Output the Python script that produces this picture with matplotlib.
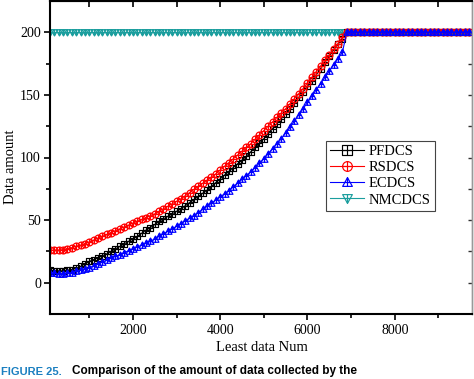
# Data amount vs least data num, four collection schemes

import numpy as np
import matplotlib.pyplot as plt
import matplotlib.path as mpath
from matplotlib.ticker import NullFormatter

plt.rcParams['font.family'] = ['Liberation Serif', 'DejaVu Serif']

# x sample points (Least data Num)
least_num = np.arange(100, 9800, 100)

# rising parts (x = 100 .. 6800)
pfdcs_rise = [10, 9.5, 9.5, 9.5, 10, 10.5, 11.5, 13, 15, 17,
              18.5, 20, 21.5, 23, 25, 27, 29, 31, 33, 35,
              37, 39.5, 42, 44, 46.5, 49, 51, 53, 55, 57,
              59, 61.5, 64, 66.5, 69, 71.5, 74, 77, 80, 83,
              86, 89, 92, 95, 98, 101, 104.5, 108, 111.5, 115,
              119, 123, 127, 131, 135, 139, 143.5, 148, 152.5, 157,
              161.5, 166, 171, 176, 181, 186, 190.5, 195]
rsdcs_rise = [26, 26, 26, 26.5, 27, 28, 29, 30, 31, 32.5,
              34, 35.5, 37, 38.5, 40, 41.5, 43, 44.5, 46, 47.5,
              49, 50.5, 52, 53.5, 55, 57, 59, 61, 63, 65,
              67, 69.5, 72, 74.5, 77, 79.5, 82, 84.5, 87, 90,
              93, 96, 99, 102, 105, 108, 111, 114.5, 118, 121.5,
              125, 128.5, 132, 135.5, 139, 143, 147, 151, 155, 159.5,
              164, 168.5, 173, 177.5, 182, 186.5, 191, 196]
ecdcs_rise = [8, 7.5, 7, 7, 7.5, 8, 9, 10, 11, 12,
              13.5, 15, 16.5, 18, 19.5, 21, 22.5, 24, 25.5, 27,
              28.5, 30, 31.5, 33, 35, 37, 39, 41, 43, 45,
              47, 49.5, 51.5, 53.5, 56, 58.5, 61, 63.5, 66, 68.5,
              71, 73.5, 76.5, 79.5, 82.5, 85.5, 88.5, 92, 95.5, 99,
              103, 107, 111, 115, 119.5, 124, 129, 134, 139, 144,
              149, 154, 159, 164, 169, 174, 179, 184]
# all schemes saturate at 200 from x = 6900 on
saturated = [200, 200, 200, 200, 200, 200, 200, 200, 200, 200,
             200, 200, 200, 200, 200, 200, 200, 200, 200, 200,
             200, 200, 200, 200, 200, 200, 200, 200, 200]

pfdcs = pfdcs_rise + saturated
rsdcs = rsdcs_rise + saturated
ecdcs = ecdcs_rise + saturated
nmcdcs = [200] * len(least_num)

# Origin-like hollow symbols with a cross inside
M, L, C = mpath.Path.MOVETO, mpath.Path.LINETO, mpath.Path.CLOSEPOLY
cross = mpath.Path([(-1, 0), (1, 0), (0, -1), (0, 1)], [M, L, M, L])
sq_plus = mpath.Path([(-1, -1), (1, -1), (1, 1), (-1, 1), (-1, -1),
                      (-1, 0), (1, 0), (0, -1), (0, 1)],
                     [M, L, L, L, C, M, L, M, L])
circ_plus = mpath.Path.make_compound_path(mpath.Path.unit_circle(), cross)
tri_up = mpath.Path([(-1, -0.8), (1, -0.8), (0, 1), (-1, -0.8),
                     (0, -0.8), (0, 1), (-0.5, 0), (0.5, 0)],
                    [M, L, L, C, M, L, M, L])
tri_down = mpath.Path([(-1, 0.8), (1, 0.8), (0, -1), (-1, 0.8),
                       (0, 0.8), (0, -1), (-0.5, 0), (0.5, 0)],
                      [M, L, L, C, M, L, M, L])

fig = plt.figure(figsize=(4.74, 3.79), dpi=100)
ax = fig.add_axes([50/474, 65/379, 422/474, 313/379])

style = dict(lw=0.8, ms=5, mew=0.85, mfc='none')
l4, = ax.plot(least_num, nmcdcs, color='#1b9e9e', marker=tri_down, **style)
l1, = ax.plot(least_num, pfdcs, color='black', marker=sq_plus, **style)
l2, = ax.plot(least_num, rsdcs, color='red', marker=circ_plus, **style)
l3, = ax.plot(least_num, ecdcs, color='blue', marker=tri_up, **style)

ax.set_xlim(100, 9770)
ax.set_ylim(-25, 225)
ax.set_xticks([2000, 4000, 6000, 8000])
ax.set_xticks([1000, 3000, 5000, 7000, 9000], minor=True)
ax.set_yticks([0, 50, 100, 150, 200])
ax.set_yticks([25, 75, 125, 175], minor=True)
ax.tick_params(which='major', direction='out', length=4, width=1.2,
               labelsize=10, pad=2.5, colors='black')
ax.tick_params(which='minor', direction='out', length=3, width=1.2)
ax.tick_params(axis='x', pad=3.5)

for s in ['left', 'bottom', 'top']:
    ax.spines[s].set_linewidth(1.5)
ax.spines['right'].set_color('#999999')
ax.spines['right'].set_linewidth(1.0)

# mirrored ticks, pointing inward, no labels
top = ax.secondary_xaxis('top')
top.set_xticks([1000, 2000, 3000, 4000, 5000, 6000, 7000, 8000, 9000])
top.xaxis.set_major_formatter(NullFormatter())
top.tick_params(direction='in', length=4.5, width=1.2)
top.spines['top'].set_linewidth(1.5)
right = ax.secondary_yaxis('right')
right.set_yticks([0, 25, 50, 75, 100, 125, 150, 175, 200])
right.yaxis.set_major_formatter(NullFormatter())
right.tick_params(direction='in', length=3, width=1.0, color='#333333')
right.spines['right'].set_color('#999999')
right.spines['right'].set_linewidth(1.0)

ax.set_xlabel('Least data Num', fontsize=10.5)
ax.xaxis.set_label_coords(0.503, -0.087)
ax.set_ylabel('Data amount', fontsize=10.5)
ax.yaxis.set_label_coords(-0.078, 0.47)

leg = ax.legend([l1, l2, l3, l4], ['PFDCS', 'RSDCS', 'ECDCS', 'NMCDCS'],
                loc='upper left', bbox_to_anchor=(0.654, 0.554),
                borderaxespad=0, fontsize=10.5, numpoints=1, markerscale=1.4,
                handlelength=2.3, handletextpad=0.3, labelspacing=0.2,
                borderpad=0.3, fancybox=False, framealpha=1)
leg.get_frame().set_edgecolor('#444444')
leg.get_frame().set_linewidth(0.8)

# caption of the source figure, along the bottom edge
fig.text(0.002, 0.004, 'FIGURE 25.', color='#1a7fc0', fontweight='bold',
         family='Liberation Sans', fontsize=8, va='bottom')
fig.text(72/474, 0.004, 'Comparison of the amount of data collected by the',
         fontweight='bold', family='Liberation Sans', fontsize=8.5,
         va='bottom')

fig.savefig('out.png', dpi=100)
